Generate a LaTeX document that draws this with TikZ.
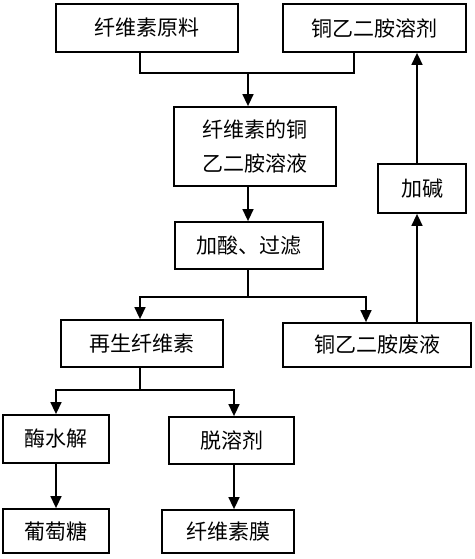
\documentclass[tikz,border=0pt]{standalone}
\usepackage{fontspec}
\setmainfont{Noto Sans CJK SC}
\usetikzlibrary{arrows.meta}

\tikzset{
  box/.style={draw, line width=1.8pt, inner sep=0pt, align=center,
    font=\fontsize{21}{34}\selectfont},
  link/.style={line width=1.5pt},
  arr/.style={link, -{Triangle[length=12pt,width=11pt]}}
}

\begin{document}
\begin{tikzpicture}[x=1pt,y=-1pt]
\useasboundingbox (0,0) rectangle (474,559);

\node[box, minimum width=182pt, minimum height=48pt] (raw) at (147,28) {纤维素原料};
\node[box, minimum width=183pt, minimum height=48pt] (solvent) at (374.5,28) {铜乙二胺溶剂};

\node[box, minimum width=162pt, minimum height=79pt] (complex) at (255,146.5) {纤维素的铜\\乙二胺溶液};
\node[box, minimum width=88pt, minimum height=49pt] (base) at (422,188.5) {加碱};

\node[box, minimum width=148pt, minimum height=47pt] (acid) at (249,245.5) {加酸、过滤};

\node[box, minimum width=162pt, minimum height=47pt] (regen) at (142,343.5) {再生纤维素};
\node[box, minimum width=188pt, minimum height=44pt] (waste) at (377,345) {铜乙二胺废液};

\node[box, minimum width=106pt, minimum height=48pt] (enzyme) at (56,439) {酶水解};
\node[box, minimum width=125pt, minimum height=47pt] (desolv) at (231.5,440.5) {脱溶剂};

\node[box, minimum width=106pt, minimum height=44pt] (glucose) at (56,531) {葡萄糖};
\node[box, minimum width=132pt, minimum height=43pt] (film) at (228,531.5) {纤维素膜};

% junctions
\coordinate (m1) at (140,73);
\coordinate (m2) at (354,73);
\coordinate (m0) at (248,73);
\coordinate (s0) at (248,297);
\coordinate (s1) at (140,297);
\coordinate (s2) at (366,297);
\coordinate (t0) at (140,390);
\coordinate (t1) at (56,390);
\coordinate (t2) at (234,390);
\coordinate (r0) at (417,0);

\draw[link] (raw.south -| m1) -- (m1) -- (m2) -- (solvent.south -| m2);
\draw[arr] (m0) -- (complex.north -| m0);
\draw[arr] (complex.south -| m0) -- (acid.north -| m0);

\draw[link] (acid.south -| s0) -- (s0);
\draw[arr] (s0) -- (s1) -- (regen.north -| s1);
\draw[arr] (s0) -- (s2) -- (waste.north -| s2);

\draw[arr] (waste.north -| r0) -- (base.south -| r0);
\draw[arr] (base.north -| r0) -- (solvent.south -| r0);

\draw[link] (regen.south -| t0) -- (t0);
\draw[arr] (t0) -- (t1) -- (enzyme.north -| t1);
\draw[arr] (t0) -- (t2) -- (desolv.north -| t2);

\draw[arr] (enzyme.south) -- (glucose.north);
\draw[arr] (desolv.south -| t2) -- (film.north -| t2);
\end{tikzpicture}
\end{document}
